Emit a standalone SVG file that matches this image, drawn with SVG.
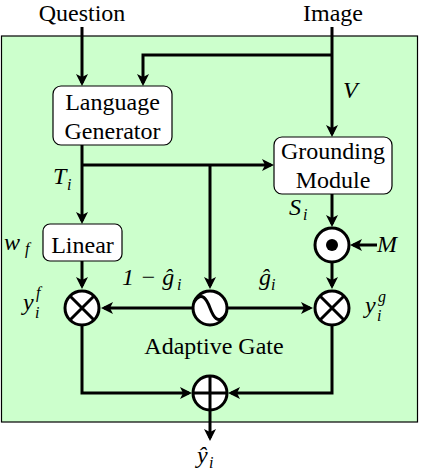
<svg xmlns="http://www.w3.org/2000/svg" width="422" height="476" viewBox="0 0 422 476">
<style>
text{font-family:"Liberation Serif","Times New Roman",serif;fill:#000}
.t{font-size:24px}
.m{font-style:italic;font-size:24px}
.s{font-style:italic;font-size:16px}
.box{fill:#fff;stroke:#000;stroke-width:1.2}
.op{fill:#fff;stroke:#000;stroke-width:3}
.sym{fill:none;stroke:#000;stroke-width:3}
.c{fill:none;stroke:#000;stroke-width:3;marker-end:url(#ah)}
</style>
<defs>
<marker id="ah" viewBox="0 0 12 12" refX="9" refY="6" markerWidth="12" markerHeight="12" markerUnits="userSpaceOnUse" orient="auto">
<path d="M0,0 L12,6 L0,12 L3,6 z" fill="#000"/>
</marker>
</defs>
<rect x="1.5" y="36" width="416" height="386" fill="#ccffcc" stroke="#000" stroke-width="1.2"/>
<g id="inputs">
<text class="t" x="82" y="21" text-anchor="middle">Question</text>
<text class="t" x="333" y="21" text-anchor="middle">Image</text>
</g>
<g id="connectors">
<path class="c" d="M82,27 V83"/>
<path class="c" d="M332,27 V134"/>
<path class="c" d="M332,55 H143 V83"/>
<path class="c" d="M82,145 V221"/>
<path class="c" d="M82,165 H271"/>
<path class="c" d="M210,165 V286"/>
<path class="c" d="M332,194 V224"/>
<path class="c" d="M377,245 H353"/>
<path class="c" d="M332,263 V286"/>
<path class="c" d="M82,261 V286"/>
<path class="c" d="M192,308 H104"/>
<path class="c" d="M228,308 H310"/>
<path class="c" d="M82,326 V393 H189"/>
<path class="c" d="M332,326 V393 H231"/>
<path class="c" d="M210,411 V438"/>
</g>
<g id="labels">
<text class="m" x="343" y="98">V</text>
<text class="m" x="53" y="184">T</text><text class="s" x="67" y="190">i</text>
<text class="m" x="4" y="250">w</text><text class="s" x="25" y="254">f</text>
<text class="m" x="289" y="215">S</text><text class="s" x="303" y="220">i</text>
<text class="m" x="377" y="252">M</text>
<text class="m" x="122" y="285">1 − ĝ</text><text class="s" x="177" y="290">i</text>
<text class="m" x="259" y="285">ĝ</text><text class="s" x="271" y="290">i</text>
<text class="m" x="23" y="310">y</text><text class="s" x="36" y="298">f</text><text class="s" x="35" y="318">i</text>
<text class="m" x="365" y="313">y</text><text class="s" x="378" y="302">g</text><text class="s" x="377" y="321">i</text>
<text class="t" x="214" y="354" text-anchor="middle">Adaptive Gate</text>
<text class="m" x="197" y="463">ŷ</text><text class="s" x="209" y="468">i</text>
</g>
<g id="language-generator">
<rect class="box" x="53" y="86" width="119" height="59" rx="8"/>
<text class="t" x="112.5" y="110" text-anchor="middle">Language</text>
<text class="t" x="112.5" y="139" text-anchor="middle">Generator</text>
</g>
<g id="grounding-module">
<rect class="box" x="274" y="137" width="118" height="57" rx="8"/>
<text class="t" x="333" y="159" text-anchor="middle">Grounding</text>
<text class="t" x="333" y="188" text-anchor="middle">Module</text>
</g>
<g id="linear">
<rect class="box" x="43" y="224" width="79" height="37" rx="7"/>
<text class="t" x="82.5" y="253" text-anchor="middle">Linear</text>
</g>
<g id="hadamard">
<circle class="op" cx="332" cy="245" r="17"/>
<circle cx="332" cy="245" r="6" fill="#000"/>
</g>
<g id="mult-f">
<circle class="op" cx="82" cy="308" r="17"/>
<path class="sym" d="M70,296 L94,320 M94,296 L70,320"/>
</g>
<g id="mult-g">
<circle class="op" cx="332" cy="308" r="17"/>
<path class="sym" d="M320,296 L344,320 M344,296 L320,320"/>
</g>
<g id="sigmoid">
<circle class="op" cx="210" cy="308" r="17"/>
<path class="sym" d="M194,302 C202,290 207,300 210,308 C213,316 218,326 226,314"/>
</g>
<g id="sum">
<circle class="op" cx="210" cy="393" r="17"/>
<path class="sym" d="M193,393 H227 M210,376 V410"/>
</g>
</svg>
